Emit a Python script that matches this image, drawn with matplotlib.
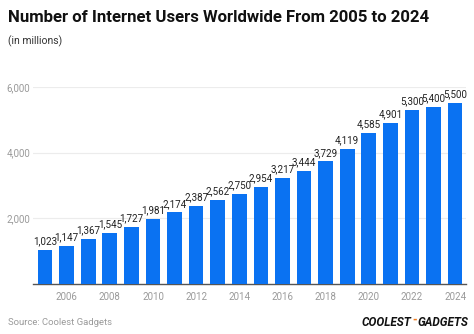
import matplotlib.pyplot as plt
from matplotlib.ticker import FuncFormatter

plt.rcParams['font.family'] = ['Roboto', 'DejaVu Sans']

# Internet users per year, in millions
years = list(range(2005, 2025))
users = [1023, 1147, 1367, 1545, 1727, 1981, 2174, 2387, 2562, 2750,
         2954, 3217, 3444, 3729, 4119, 4585, 4901, 5300, 5400, 5500]
tick_years = list(range(2006, 2025, 2))

fig = plt.figure(figsize=(4.74, 3.34), dpi=100)
ax = fig.add_axes([0.07, 0.15, 0.913, 0.59])

bars = ax.bar(years, users, width=0.68, color='#0a72f2', zorder=3)
for x, v in zip(years, users):
    ax.text(x, v + 110, f'{v:,}', ha='center', va='bottom', fontsize=7.1, color='#222222')

ax.set_xlim(2004.45, 2024.5)
ax.set_ylim(0, 6000)
ax.set_yticks([2000, 4000, 6000])
ax.yaxis.set_major_formatter(FuncFormatter(lambda v, p: f'{int(v):,}'))
ax.set_xticks(tick_years)
ax.tick_params(axis='both', length=0, labelsize=7, labelcolor='#9a9a9a')
ax.tick_params(axis='x', pad=6)
ax.tick_params(axis='y', pad=2)
ax.grid(axis='y', color='#ececec', linewidth=0.8, zorder=0)
for side in ['top', 'right', 'left']:
    ax.spines[side].set_visible(False)
ax.spines['bottom'].set_color('#555555')
ax.spines['bottom'].set_linewidth(1)

fig.text(0.017, 0.948, 'Number of Internet Users Worldwide From 2005 to 2024',
         fontsize=12.1, fontweight='bold', color='#111111', va='center')
fig.text(0.017, 0.876, '(in millions)', fontsize=7.5, color='#333333', va='center')
fig.text(0.017, 0.035, 'Source: Coolest Gadgets', fontsize=6.8, color='#9a9a9a', va='center')

# brand mark in the lower right
fig.text(0.868, 0.035, 'COOLEST', fontsize=8.5, fontweight='bold', fontstyle='italic',
         color='#111111', ha='right', va='center')
fig.text(0.874, 0.040, '-', fontsize=8.5, fontweight='bold', color='#f07c1e',
         ha='center', va='center')
fig.text(0.880, 0.035, 'GADGETS', fontsize=8.5, fontweight='bold', fontstyle='italic',
         color='#111111', ha='left', va='center')

fig.savefig('out.png', dpi=100)
